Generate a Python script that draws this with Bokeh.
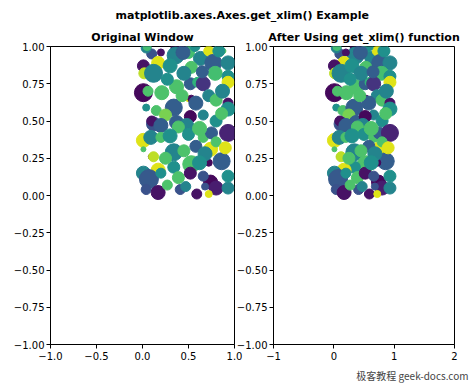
from bokeh.plotting import figure
from bokeh.layouts import row
from bokeh.models import ColumnDataSource, FixedTicker, Range1d, Title
from bokeh.transform import linear_cmap
from bokeh.palettes import Viridis256
from bokeh.embed import file_html
from bokeh.resources import INLINE

suptitle = "matplotlib.axes.Axes.get_xlim() Example"
title_left = "Original Window"
title_right = "After Using get_xlim() function"
watermark = "极客教程 geek-docs.com"

x_vals = [.38, .10, .04, .05, .36, .20, .50, .63, .72, .57, .88, .77, .93, .17, .01, .02, .12, .30, .53, .79,
          .93, .93, .01, .21, .37, .52, .60, .66, .50, .53, .72, .58, .80, .93, .93, .04, .15, .34, .25, .66,
          .12, .37, .52, .80, .10, .20, .48, .39, .01, .09, .20, .50, .66, .75, .93, .74, .80, .34, .58, .09,
          .12, .01, .53, .86, .72, .34, .17, .39, .52, .01, .07, .20, .74, .80, .93, .66, .68, .04, .17, .41,
          .59, .72, .93,
          .45, .65, .87, .27, .43, .86, .30, .62, .45, .68, .25, .90, .47, .27, .62, .06, .44, .83]
y_vals = [.99, .95, .99, 1.0, .94, .96, .96, .92, .97, 1.0, .97, .89, .89, .89, .87, .82, .82, .87, .86, .82,
          .80, .76, .69, .69, .73, .75, .76, .75, .65, .65, .67, .62, .64, .62, .58, .59, .57, .59, .54, .54,
          .48, .49, .53, .50, .50, .47, .47, .46, .37, .39, .39, .41, .39, .42, .42, .31, .36, .29, .33, .26,
          .26, .31, .21, .23, .22, .19, .17, .12, .15, .15, .11, .15, .09, .05, .05, .13, .06, .04, .02, .04,
          .01, .01, .13,
          .82, .83, .70, .78, .67, .55, .40, .45, .30, .28, .25, .32, .06, .07, .22, .70, .96, .97]
color_vals = [.02, .25, .45, .70, .45, .05, .70, .45, .95, .50, .75, .30, .45, .95, .05, .90, .45, .50, .72, .70,
              .50, .95, .02, .72, .72, .30, .65, .15, .95, .02, .45, .30, .72, .05, .50, .50, .72, .30, .80, .45,
              .25, .30, .02, .50, .05, .30, .45, .72, .95, .45, .72, .50, .72, .30, .10, .95, .72, .45, .30, .00,
              .90, .72, .72, .30, .02, .50, .95, .72, .05, .45, .28, .50, .02, .08, .45, .25, .25, .25, .05, .25,
              .05, .95, .50,
              .45, .30, .45, .50, .72, .72, .50, .72, .72, .45, .72, .95, .45, .72, .50, .72, .30, .50]
size_vals = [13, 10, 10, 8, 17, 7, 12, 14, 10, 10, 5, 17, 14, 13, 12, 11, 18, 14, 12, 14,
             12, 12, 18, 14, 14, 12, 10, 14, 6, 7, 12, 14, 12, 10, 14, 7, 10, 17, 12, 10,
             14, 14, 12, 12, 10, 14, 14, 12, 14, 14, 10, 12, 10, 12, 17, 14, 10, 17, 12, 5,
             10, 5, 17, 17, 7, 12, 14, 12, 12, 14, 19, 10, 14, 14, 12, 10, 7, 10, 14, 10,
             10, 7, 12,
             14, 12, 14, 12, 12, 12, 14, 14, 12, 14, 12, 12, 10, 10, 14, 10, 14, 12]

y_ticks = [-1.0, -0.75, -0.5, -0.25, 0.0, 0.25, 0.5, 0.75, 1.0]
y_tick_labels = ["\u22121.00", "\u22120.75", "\u22120.50", "\u22120.25", "0.00", "0.25", "0.50", "0.75", "1.00"]
x_ticks_left = [-1.0, -0.5, 0.0, 0.5, 1.0]
x_tick_labels_left = ["\u22121.0", "\u22120.5", "0.0", "0.5", "1.0"]
x_ticks_right = [-1, 0, 1, 2]
x_tick_labels_right = ["\u22121", "0", "1", "2"]

FONT = "DejaVu Sans"


def style(p, xt, xl):
    p.grid.visible = False
    p.outline_line_color = "black"
    p.outline_line_alpha = 1.0
    p.outline_line_width = 1
    p.xaxis.ticker = FixedTicker(ticks=xt)
    p.xaxis.major_label_overrides = {t: l for t, l in zip(xt, xl)}
    p.yaxis.ticker = FixedTicker(ticks=y_ticks)
    p.yaxis.major_label_overrides = {t: l for t, l in zip(y_ticks, y_tick_labels)}
    for ax in (p.xaxis[0], p.yaxis[0]):
        ax.axis_line_color = "black"
        ax.major_tick_line_color = "black"
        ax.minor_tick_line_color = None
        ax.major_tick_in = 0
        ax.major_tick_out = 4
        ax.major_label_text_font = FONT
        ax.major_label_text_font_size = "10px"
        ax.major_label_text_color = "black"
    p.xaxis.major_label_standoff = 3
    p.yaxis.major_label_standoff = 2


def ttl(text, align="center", offset=0, standoff=5, size="11px", font=FONT, style="bold", color="black"):
    return Title(text=text, align=align, offset=offset, standoff=standoff, text_font=font,
                 text_font_size=size, text_font_style=style, text_color=color)


src = ColumnDataSource(dict(x=x_vals, y=y_vals, c=color_vals, s=size_vals))
cmap = linear_cmap("c", Viridis256, 0, 1)

p1 = figure(width=474, height=385, x_range=Range1d(-1, 1), y_range=Range1d(-1, 1),
            output_backend="svg", toolbar_location=None, title=None,
            min_border_left=50, min_border_right=240, min_border_top=46, min_border_bottom=39)
style(p1, x_ticks_left, x_tick_labels_left)
p1.scatter("x", "y", size="s", source=src, fill_color=cmap, line_color=cmap, fill_alpha=1, line_alpha=1)
p1.add_layout(ttl(title_left, standoff=6), "above")
p1.add_layout(ttl(suptitle, align="left", offset=65, standoff=8), "above")

p2 = figure(width=241, height=385, x_range=Range1d(-1, 2), y_range=Range1d(-1, 1),
            output_backend="svg", toolbar_location=None, title=None,
            min_border_left=38, min_border_right=20, min_border_top=46, min_border_bottom=39,
            margin=(0, 0, 0, -241))
p2.background_fill_alpha = 0
p2.border_fill_alpha = 0
style(p2, x_ticks_right, x_tick_labels_right)
p2.scatter("x", "y", size="s", source=src, fill_color=cmap, line_color=cmap, fill_alpha=1, line_alpha=1)
p2.add_layout(ttl(title_right, standoff=6), "above")
p2.add_layout(ttl(watermark, align="right", offset=-14, standoff=6, size="10px",
                  font="Noto Sans CJK SC", style="normal", color="#444444"), "below")

layout = row(p1, p2)
open("out.html", "w").write(file_html(layout, INLINE))
